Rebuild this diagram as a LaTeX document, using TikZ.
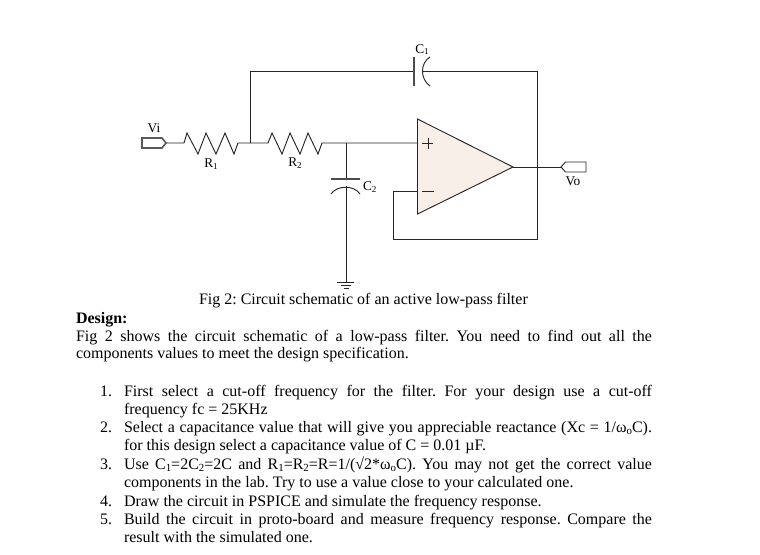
\documentclass[tikz,border=0pt]{standalone}
\usepackage{fontspec}
\setmainfont{Liberation Serif}
\frenchspacing
\definecolor{opfill}{HTML}{F8EFE8}
\newcommand{\sbs}[1]{\raisebox{-0.25ex}{\scalebox{0.68}{#1}}}
\newcommand{\jl}[2]{\makebox[#1][s]{#2}}
\tikzset{
  x=0.75pt,y=-0.75pt,
  wire/.style={draw=black!85,line width=0.7pt,line join=miter},
  plate/.style={draw=black!70,line width=0.9pt},
  para/.style={anchor=base west,inner sep=0pt,outer sep=0pt,font=\fontsize{12}{14}\selectfont},
  lab/.style={inner sep=0pt,outer sep=0pt,font=\fontsize{10}{11}\selectfont},
}
\begin{document}
\begin{tikzpicture}
\useasboundingbox[fill=white] (0,0) rectangle (760,554);
% named points
\coordinate (vitip) at (166,143);
\coordinate (r1a) at (184,143);
\coordinate (r1b) at (238,143);
\coordinate (j1) at (250,143);
\coordinate (r2a) at (268,143);
\coordinate (r2b) at (322,143);
\coordinate (j2) at (346,143);
\coordinate (plus) at (418,143);
\coordinate (minus) at (418,191);
\coordinate (out) at (513,167);
\coordinate (votip) at (561,167);
\coordinate (tl) at (250,71);
\coordinate (c1a) at (414,71);
\coordinate (c1b) at (422,71);
\coordinate (tr) at (537,71);
\coordinate (brr) at (537,239);
\coordinate (brl) at (393,239);
\coordinate (ml) at (393,191);
\coordinate (c2a) at (346,179);
\coordinate (c2b) at (346,186);
\coordinate (gnd) at (346,282);
% op-amp
\path[fill=opfill,draw=black!85,line width=0.7pt]
  (417.5,119) -- (417.5,214) -- (513,167) -- cycle;
\draw[wire] (422,143) -- (433,143) (428,137.5) -- (428,149);
\draw[wire] (422,191) -- (434,191);
% ports
\draw[draw=black!65,line width=1.2pt,fill=white] (142,138) -- (162,138) -- (166,143) -- (162,148) -- (142,148) -- cycle;
\draw[draw=black!85,line width=0.7pt,fill=white] (561,167) -- (565.5,162) -- (586,162) -- (586,172) -- (565.5,172) -- cycle;
% resistors
\draw[wire] (vitip) -- (r1a) -- (187,133) -- (198,154) -- (206,133) -- (216,154) -- (225,133) -- (234,154) -- (r1b) -- (j1);
\draw[wire] (j1) -- (r2a) -- (272,133) -- (282,154) -- (290,133) -- (300,154) -- (308,133) -- (318,154) -- (r2b) -- (plus);
% feedback
\draw[wire] (j1) -- (tl) -- (c1a);
\draw[plate] (414,57) -- (414,86);
\draw[wire] (430,57) .. controls (420,63) and (420,79) .. (430,86);
\draw[wire] (c1b) -- (tr) -- (brr) -- (brl) -- (ml) -- (minus);
\draw[wire] (out) -- (votip);
% C2
\draw[wire] (j2) -- (c2a);
\draw[plate] (331,179) -- (360,179);
\draw[wire] (331,194) .. controls (337,185) and (354,185) .. (360,194);
\draw[wire] (c2b) -- (gnd);
\draw[wire] (337,282) -- (354,282) (341,285.5) -- (351,285.5) (343.5,288.5) -- (348.5,288.5);
% component labels
\node[lab] (lvi) at (154,128.5) {Vi};
\node[lab] (lr1) at (211,164) {R\sbs{1}};
\node[lab] (lr2) at (295,163) {R\sbs{2}};
\node[lab,anchor=west] (lc2) at (363,187) {C\sbs{2}};
\node[lab] (lc1) at (422,49.5) {C\sbs{1}};
\node[lab] (lvo) at (573,181) {Vo};
% text
\node[para] (cap) at (199,304) {Fig 2: Circuit schematic of an active low-pass filter};
\node[para] (des) at (76,323) {\textbf{Design:}};
\node[para] (p1) at (76,341.5) {\jl{432pt}{Fig 2 shows the circuit schematic of a low-pass filter. You need to find out all the}};
\node[para] (p2) at (76,358.5) {components values to meet the design specification.};
\node[para] (n1) at (100,396) {1.};
\node[para] (t1) at (124,396) {\jl{396pt}{First select a cut-off frequency for the filter. For your design use a cut-off}};
\node[para] (t1b) at (124,414.7) {frequency fc = 25KHz};
\node[para] (n2) at (100,432.7) {2.};
\node[para] (t2) at (124,432.7) {\jl{396pt}{Select a capacitance value that will give you appreciable reactance (Xc = 1/ω\sbs{o}C).}};
\node[para] (t2b) at (124,450.7) {for this design select a capacitance value of C = 0.01 µF.};
\node[para] (n3) at (100,469.3) {3.};
\node[para] (t3) at (124,469.3) {\jl{396pt}{Use C\sbs{1}=2C\sbs{2}=2C and R\sbs{1}=R\sbs{2}=R=1/(√2*ω\sbs{o}C). You may not get the correct value}};
\node[para] (t3b) at (124,487) {components in the lab. Try to use a value close to your calculated one.};
\node[para] (n4) at (100,506) {4.};
\node[para] (t4) at (124,506) {Draw the circuit in PSPICE and simulate the frequency response.};
\node[para] (n5) at (100,524) {5.};
\node[para] (t5) at (124,524) {\jl{396pt}{Build the circuit in proto-board and measure frequency response. Compare the}};
\node[para] (t5b) at (124,542.6) {result with the simulated one.};
\end{tikzpicture}
\end{document}
